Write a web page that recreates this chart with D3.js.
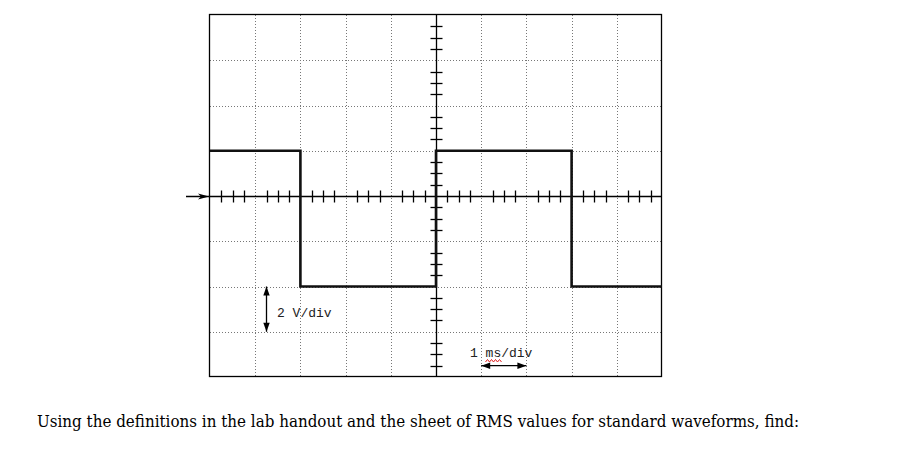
<!DOCTYPE html>
<html><head><meta charset="utf-8">
<script src="https://cdn.jsdelivr.net/npm/d3@7"></script>
<style>body{margin:0;background:#fff}svg{display:block}</style>
</head><body>
<script>
// Data: square wave (time in ms, voltage in V), scope settings
const waveTimes = [-5, -3, 0, 3, 5];
const waveLevels = [2, -4, 2, -4, -4];
const timeDivs = [-5,-4,-3,-2,-1,0,1,2,3,4,5];
const voltDivs = [-8,-6,-4,-2,0,2,4,6,8];
const voltLabel = "2 V/div";
const timeLabel = "1 ms/div";
const caption = "Using the definitions in the lab handout and the sheet of RMS values for standard waveforms, find:";

const W = 897, H = 449;
const svg = d3.select("body").append("svg").attr("width", W).attr("height", H);
const x = d3.scaleLinear().domain([-5, 5]).range([210, 662]);
const y = d3.scaleLinear().domain([-8, 8]).range([377, 15]);

// grid
const g = svg.append("g");
g.selectAll(".vg").data(timeDivs.filter(d => d > -5 && d < 5 && d !== 0)).join("line")
  .attr("x1", d => Math.round(x(d)) + 0.5).attr("x2", d => Math.round(x(d)) + 0.5)
  .attr("y1", y(8)).attr("y2", y(-8))
  .attr("stroke", "#777").attr("stroke-width", 1).attr("stroke-dasharray", "1,2");
g.selectAll(".hg").data(voltDivs.filter(d => d > -8 && d < 8 && d !== 0)).join("line")
  .attr("y1", d => Math.round(y(d)) + 0.5).attr("y2", d => Math.round(y(d)) + 0.5)
  .attr("x1", x(-5)).attr("x2", x(5))
  .attr("stroke", "#777").attr("stroke-width", 1).attr("stroke-dasharray", "1,2");

// box
svg.append("rect").attr("x", x(-5) - 0.5).attr("y", y(8) - 0.5)
  .attr("width", x(5) - x(-5)).attr("height", y(-8) - y(8))
  .attr("fill", "none").attr("stroke", "#000").attr("stroke-width", 1.3);

// center axes
const y0 = Math.round(y(0)) + 0.5, x0 = Math.round(x(0)) + 0.5;
svg.append("line").attr("x1", 186).attr("x2", x(5)).attr("y1", y0).attr("y2", y0)
  .attr("stroke", "#000").attr("stroke-width", 1.3);
svg.append("line").attr("x1", x0).attr("x2", x0).attr("y1", y(8)).attr("y2", y(-8))
  .attr("stroke", "#000").attr("stroke-width", 1.3);
// left arrow head on time axis
svg.append("path").attr("d", `M198,${y0-3} L209,${y0} L198,${y0+3} L201,${y0} Z`).attr("fill", "#000");

// minor ticks (quarter divisions)
const tq = d3.range(-5, 5, 0.25).filter(d => Math.abs(d - Math.round(d)) > 1e-9);
svg.selectAll(".tx").data(tq).join("line")
  .attr("x1", d => Math.round(x(d)) + 0.5).attr("x2", d => Math.round(x(d)) + 0.5)
  .attr("y1", y0 - 6).attr("y2", y0 + 6).attr("stroke", "#000").attr("stroke-width", 1.3);
const vq = d3.range(-8, 8, 0.5).filter(d => Math.abs(d / 2 - Math.round(d / 2)) > 1e-9);
svg.selectAll(".ty").data(vq).join("line")
  .attr("y1", d => Math.round(y(d)) + 0.5).attr("y2", d => Math.round(y(d)) + 0.5)
  .attr("x1", x0 - 6).attr("x2", x0 + 6).attr("stroke", "#000").attr("stroke-width", 1.3);

// waveform
const line = d3.line().x(d => x(d[0])).y(d => y(d[1])).curve(d3.curveStepAfter);
svg.append("path").datum(waveTimes.map((t, i) => [t, waveLevels[i]]))
  .attr("d", line).attr("fill", "none").attr("stroke", "#111").attr("stroke-width", 2.6);

// double arrows
function dblArrow(x1, y1, x2, y2) {
  const ang = Math.atan2(y2 - y1, x2 - x1);
  svg.append("line").attr("x1", x1).attr("y1", y1).attr("x2", x2).attr("y2", y2)
    .attr("stroke", "#000").attr("stroke-width", 1.3);
  [[x1, y1, ang + Math.PI], [x2, y2, ang]].forEach(([px, py, a]) => {
    const L = 9, Wd = 3.2;
    const bx = px - L * Math.cos(a), by = py - L * Math.sin(a);
    const nx = -Math.sin(a) * Wd, ny = Math.cos(a) * Wd;
    svg.append("path").attr("d", `M${px},${py} L${bx + nx},${by + ny} L${bx - nx},${by - ny} Z`).attr("fill", "#000");
  });
}
dblArrow(266.5, y(-4), 266.5, y(-6));
dblArrow(x(1), y(-7.5), x(2), y(-7.5));

svg.append("text").attr("x", 277).attr("y", 317).text(voltLabel)
  .attr("font-family", "Liberation Mono, monospace").attr("font-size", 13).attr("fill", "#222");
svg.append("text").attr("x", 470).attr("y", 357).text(timeLabel)
  .attr("font-family", "Liberation Mono, monospace").attr("font-size", 13).attr("fill", "#222");
// spell-check wavy underline under "ms"
const wav = [];
for (let i = 0; i <= 8; i++) wav.push([485.5 + i * 2, i % 2 ? 359.5 : 362]);
svg.append("path").attr("d", d3.line()(wav)).attr("fill", "none").attr("stroke", "#e02020").attr("stroke-width", 1);

svg.append("text").attr("x", 37).attr("y", 427).text(caption)
  .attr("font-family", "DejaVu Serif, serif").attr("font-size", 16.5).attr("fill", "#000")
  .attr("textLength", 762).attr("lengthAdjust", "spacingAndGlyphs");
</script>
</body></html>
